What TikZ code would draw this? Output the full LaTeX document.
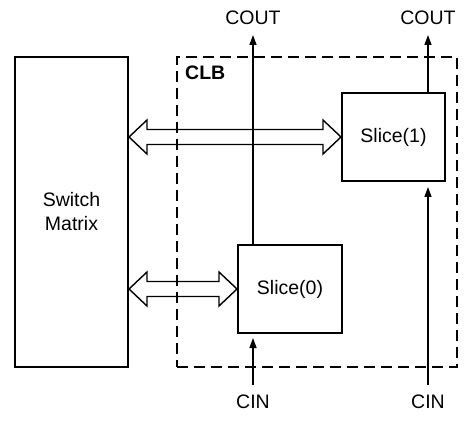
\documentclass[tikz,border=0pt]{standalone}
\usepackage{fontspec}
\setmainfont{Liberation Sans}
\usetikzlibrary{arrows.meta,calc}
\begin{document}
\begin{tikzpicture}[x=1pt,y=-1pt,
  every node/.style={font=\fontsize{19.5}{24}\selectfont},
  box/.style={draw,line width=2pt,inner sep=0pt,align=center},
  clbbox/.style={draw,line width=2pt,dash pattern=on 11pt off 6pt,inner sep=0pt},
  conn/.style={line width=1.4pt,-{Triangle[length=10pt,width=7pt]}},
  dbl/.style={line width=1.4pt,line join=miter},
  lbl/.style={inner sep=0pt}]
\useasboundingbox (0,0) rectangle (474,422);
\node[box,minimum width=113pt,minimum height=310pt] (sm) at (71.5,212) {Switch\\Matrix};
\node[clbbox,minimum width=280pt,minimum height=310pt] (clb) at (317,212) {};
\node[lbl,anchor=west,font=\fontsize{19.5}{24}\selectfont\bfseries] (clbl) at ($(clb.north west)+(9,17)$) {CLB};
\node[box,minimum width=103pt,minimum height=88pt] (s1) at (393.5,137) {Slice(1)};
\node[box,minimum width=104pt,minimum height=88pt] (s0) at (290,289) {Slice(0)};
% labels
\node[lbl] (cout0) at (253,18) {COUT};
\node[lbl] (cout1) at (428,18) {COUT};
\node[lbl] (cin0) at (253,402) {CIN};
\node[lbl] (cin1) at (428,402) {CIN};
\coordinate (t0) at (253,35);
\coordinate (t1) at (428,35);
\coordinate (b0) at (253,385);
\coordinate (b1) at (428,385);
% carry lines
\draw[conn] (s0.north -| t0) -- (t0);
\draw[conn] (s1.north -| t1) -- (t1);
\draw[conn,shorten >=4pt] (b0) -- (s0.south -| b0);
\draw[conn,shorten >=5pt] (b1) -- (s1.south -| b1);
% double arrows
\foreach \tgt in {s1,s0}{
  \coordinate (L) at (sm.east |- \tgt.west);
  \coordinate (R) at (\tgt.west);
  \draw[dbl] (L) -- ($(L)+(18,-17)$) -- ($(L)+(18,-7.5)$) -- ($(R)+(-18,-7.5)$) -- ($(R)+(-18,-17)$)
    -- (R) -- ($(R)+(-18,17)$) -- ($(R)+(-18,7.5)$) -- ($(L)+(18,7.5)$) -- ($(L)+(18,17)$) -- cycle;
}
\end{tikzpicture}
\end{document}
